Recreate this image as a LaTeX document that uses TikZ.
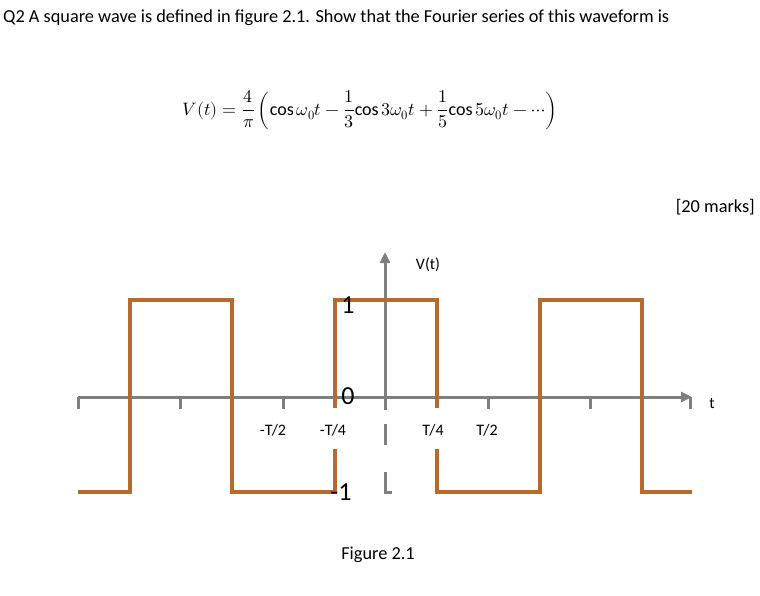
\documentclass[tikz,border=0pt]{standalone}
\usepackage{amsmath}
\usepackage{fontspec}
\usepackage{unicode-math}
\setmainfont{Carlito}
\setmathfont{Latin Modern Math}
\usetikzlibrary{arrows.meta}
\definecolor{wave}{HTML}{B8692E}
\definecolor{ax}{HTML}{7F7F7F}
\begin{document}
\begin{tikzpicture}[x=1pt,y=-1pt,
  wavel/.style={wave,line width=3.2pt},
  axl/.style={ax,line width=3pt},
  lbl/.style={font=\fontsize{16}{18}\selectfont,inner sep=0},
  big/.style={font=\fontsize{26}{28}\selectfont,inner sep=0}]
\useasboundingbox (0,0) rectangle (760,595);
\node[anchor=west,lbl,font=\fontsize{18.3}{20}\selectfont] (title) at (3,18) {Q2 A square wave is defined in figure 2.1. Show that the Fourier series of this waveform is};
\node[inner sep=0,font=\fontsize{18}{20}\selectfont] (eq) at (370,110) {$V(t)=\dfrac{4}{\pi}\left(\text{cos}\,\omega_0 t-\dfrac{1}{3}\text{cos}\,3\omega_0 t+\dfrac{1}{5}\text{cos}\,5\omega_0 t-\cdots\right)$};
\node[lbl,anchor=east,font=\fontsize{18.3}{20}\selectfont] (marks) at (755,207) {[20 marks]};
% axes
\coordinate (xa) at (78,397); \coordinate (xb) at (692,397);
\draw[axl,-{Triangle[length=11pt,width=10pt]}] (xa) -- (xb);
\foreach \x in {78,180,283,488,590,690} \draw[axl] (\x,397) -- (\x,409);
\coordinate (ya) at (385,410); \coordinate (yb) at (385,252);
\draw[axl,-{Triangle[length=11pt,width=10pt]}] (ya) -- (yb);
\draw[axl] (385,424) -- (385,445);
\draw[axl] (385,472) -- (385,492) -- (392,492);
% wave
\draw[wavel] (78,492) -- (130,492) -- (130,300) -- (232,300) -- (232,492) -- (335,492) -- (335,449);
\draw[wavel] (335,408) -- (335,300) -- (437,300) -- (437,408);
\draw[wavel] (437,449) -- (437,492) -- (540,492) -- (540,300) -- (642,300) -- (642,492) -- (692,492);
% labels
\node[big] (one) at (348,305) {1};
\node[big] (zero) at (348,396) {0};
\node[big] (mone) at (341,492) {-1};
\node[lbl] (mt2) at (273,430) {-T/2};
\node[lbl] (mt4) at (333,430) {-T/4};
\node[lbl] (t4) at (433,430) {T/4};
\node[lbl] (t2) at (487,430) {T/2};
\node[lbl] (vt) at (428,265) {V(t)};
\node[lbl] (tl) at (712,403) {t};
\node[lbl,font=\fontsize{18.3}{20}\selectfont] (fig) at (378,555) {Figure 2.1};
\end{tikzpicture}
\end{document}
